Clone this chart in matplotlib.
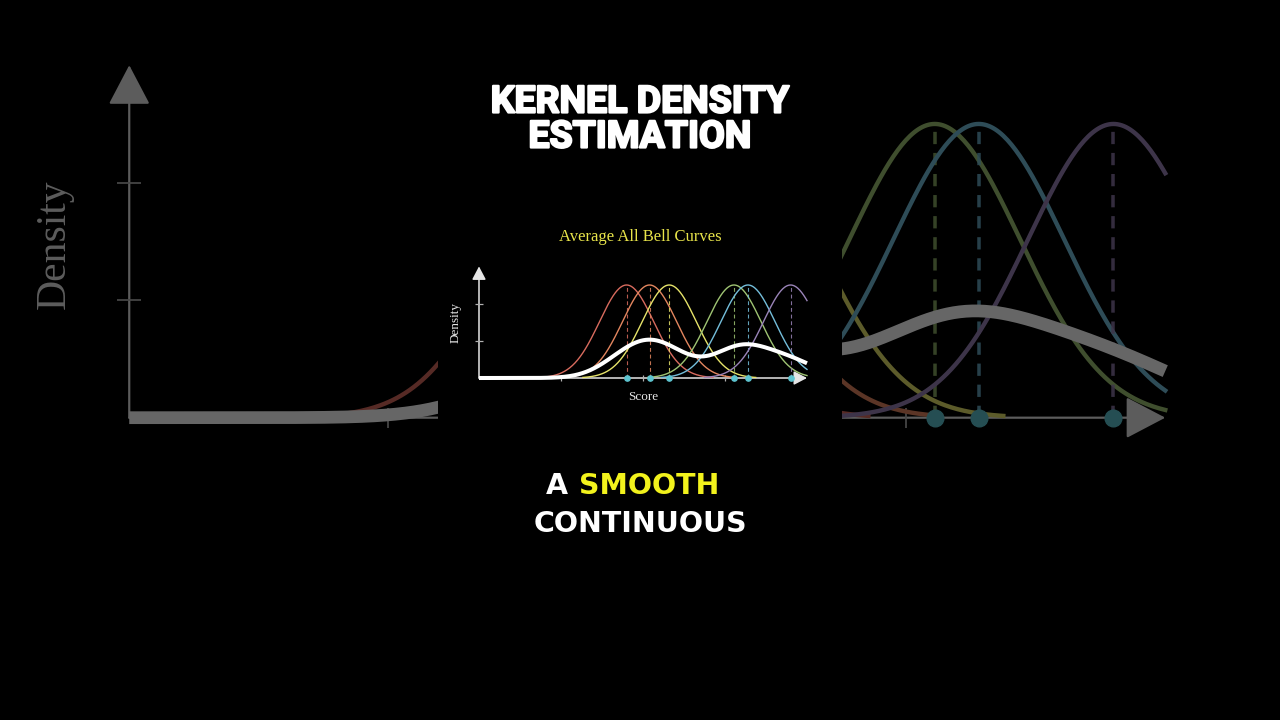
import numpy as np
import matplotlib.pyplot as plt
import matplotlib.patheffects as pe

# sample scores (x positions of the dots) and one colour per bell curve
scores = [1.80, 2.08, 2.32, 3.11, 3.28, 3.80]
curve_colors = ['#d86b5e', '#e3865f', '#e6e36a', '#9fc473', '#74bedb', '#9a84b8']
x_ticks = [1, 2, 3]
y_ticks = [1, 2]
bandwidth = 0.33
peak = 2.5
x_max, y_max = 4.0, 3.0

title = 'Average All Bell Curves'
headline = ['KERNEL DENSITY', 'ESTIMATION']
caption_a, caption_b, caption_c = 'A', 'SMOOTH', 'CONTINUOUS'


def draw_kde(ax, s, axis_lw, label_size, score_label=True):
    xs = np.linspace(0, x_max, 500)
    kernels = [peak * np.exp(-(xs - c) ** 2 / (2 * bandwidth ** 2)) for c in scores]
    avg = np.mean(kernels, axis=0)

    arrow = dict(arrowstyle='-|>,head_length=0.8,head_width=0.42',
                 mutation_scale=10 * s, lw=axis_lw, color='#e6e6e6',
                 shrinkA=0, shrinkB=0)
    ax.annotate('', xy=(0, y_max), xytext=(0, 0), arrowprops=arrow, zorder=1)
    ax.annotate('', xy=(x_max, 0), xytext=(0, 0), arrowprops=arrow, zorder=1)
    ax.plot(x_ticks, [0] * len(x_ticks), ls='none', marker='|', ms=4.5 * s,
            mew=axis_lw * 0.8, color='#b0b0b0', zorder=1)
    ax.plot([0] * len(y_ticks), y_ticks, ls='none', marker='_', ms=5.5 * s,
            mew=axis_lw * 0.8, color='#b0b0b0', zorder=1)

    for c, k, col in zip(scores, kernels, curve_colors):
        m = np.abs(xs - c) <= 3.2 * bandwidth
        ax.plot(xs[m], k[m], color=col, lw=1.0 * s, zorder=2)
        ax.plot([c, c], [0, peak], color=col, lw=0.8 * s, ls=(0, (3.5, 2.5)),
                alpha=0.85, zorder=2)
    ax.plot(xs, avg, color='white', lw=2.9 * s, solid_capstyle='butt', zorder=3)
    ax.plot(scores, [0] * len(scores), ls='none', marker='o', ms=3.8 * s,
            color='#5ec4d0', zorder=4)

    ax.text(-0.29, 1.48, 'Density', rotation=90, ha='center', va='center',
            color='#e6e6e6', fontsize=label_size, family='Liberation Serif')
    if score_label:
        ax.text(2.0, -0.51, 'Score', ha='center', va='center',
                color='#e6e6e6', fontsize=label_size, family='Liberation Serif')


fig = plt.figure(figsize=(12.8, 7.2), dpi=100, facecolor='black')

# zoomed, dimmed copy of the chart in the background
# (its Score label would sit under the centre panel, so it is left out)
bg = fig.add_axes([0, 0, 1, 1])
bg.set_facecolor('black')
bg.set_xlim(-0.499, 4.443)
bg.set_ylim(-2.573, 3.555)
bg.axis('off')
draw_kde(bg, 3.16, 1.6, 30, score_label=False)
bg.add_patch(plt.Rectangle((0, 0), 1, 1, transform=bg.transAxes,
                           color='black', alpha=0.6, zorder=10))

# black centre panel
panel = fig.add_axes([438 / 1280, 0, 404 / 1280, 1])
panel.set_facecolor('black')
panel.set_xticks([])
panel.set_yticks([])
for sp in panel.spines.values():
    sp.set_visible(False)

# the chart itself
ax = fig.add_axes([438 / 1280, 300 / 720, 404 / 1280, 220 / 720])
ax.set_facecolor('none')
ax.set_xlim(-0.5, 4.427)
ax.set_ylim(-1.129, 4.785)
ax.axis('off')
draw_kde(ax, 1.0, 1.1, 9.5)
ax.text(1.963, 3.79, title, ha='center', va='center', color='#e8e44a',
        fontsize=12, family='Liberation Serif')

# overlay text
head_font = dict(family='Roboto', weight='bold', fontsize=27, color='white',
                 ha='center', va='center',
                 path_effects=[pe.withStroke(linewidth=1.6, foreground='white')])
fig.text(640 / 1280, 1 - 102 / 720, headline[0], **head_font)
fig.text(640 / 1280, 1 - 137 / 720, headline[1], **head_font)

cap_font = dict(family='DejaVu Sans', weight='bold', fontsize=20.5, va='center')
fig.text(546 / 1280, 1 - 486 / 720, caption_a, color='white', ha='left', **cap_font)
fig.text(579 / 1280, 1 - 486 / 720, caption_b, color='#f2f21c', ha='left', **cap_font)
fig.text(640 / 1280, 1 - 524 / 720, caption_c, color='white', ha='center', **cap_font)

fig.savefig('out.png', dpi=100, facecolor='black')
